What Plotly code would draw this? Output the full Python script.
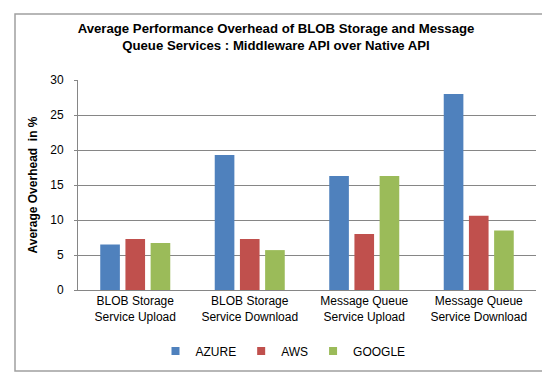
import plotly.graph_objects as go

categories = ["BLOB Storage<br>Service Upload", "BLOB Storage<br>Service Download",
              "Message Queue<br>Service Upload", "Message Queue<br>Service Download"]
azure = [6.5, 19.3, 16.3, 28.0]
aws = [7.3, 7.3, 8.0, 10.6]
google = [6.7, 5.7, 16.3, 8.5]
series_names = ["AZURE", "AWS", "GOOGLE"]
colors = ["#4F81BD", "#C0504D", "#9BBB59"]

fig = go.Figure()
for name, vals, c in zip(series_names, [azure, aws, google], colors):
    fig.add_trace(go.Bar(x=categories, y=vals, name=name, showlegend=False,
                         marker=dict(color=c, line=dict(width=0))))
# legend entries with small square swatches
for name, c in zip(series_names, colors):
    fig.add_trace(go.Scatter(x=[None], y=[None], mode="markers", name=name,
                             marker=dict(symbol="square", size=8, color=c)))

L, R, T, B = 70, 22, 72, 90
W, H = 550, 372
pw, ph = W - L - R, H - T - B

def px_x(x):
    return (x - L) / pw

def px_y(y):
    return (H - B - y) / ph

fig.update_layout(
    width=W, height=H,
    margin=dict(l=L, r=R, t=T, b=B),
    paper_bgcolor="white", plot_bgcolor="white",
    font=dict(family="Liberation Sans, Arial, sans-serif", size=12, color="#000000"),
    title=dict(text="<b>Average Performance Overhead of BLOB Storage and Message<br>Queue Services : Middleware API over Native API</b>",
               x=268 / W, xanchor="center", y=1 - 25 / H, yanchor="middle",
               font=dict(family="Liberation Sans, Arial, sans-serif", size=13.2, color="#000000")),
    barmode="group", bargap=0.34, bargroupgap=0.22,
    showlegend=True,
    legend=dict(orientation="h", xref="container", x=0.5, xanchor="center",
                yref="container", y=1 - 343 / H, yanchor="middle",
                font=dict(size=12), itemwidth=30, traceorder="normal"),
    xaxis=dict(showline=True, linecolor="#868686", linewidth=1, ticks="", showgrid=False,
               tickfont=dict(size=12), automargin=False),
    yaxis=dict(range=[0, 30], dtick=5, showline=True, linecolor="#868686", linewidth=1,
               gridcolor="#868686", gridwidth=1, ticks="outside", ticklen=3, tickcolor="#868686",
               tickfont=dict(size=12), ticklabelstandoff=8, automargin=False,
               title=dict(text="<b>Average Overhead  in %</b>", font=dict(size=12), standoff=10)),
)

fig.add_shape(type="rect", xref="paper", yref="paper",
              x0=px_x(7), x1=px_x(544), y0=px_y(363), y1=px_y(6),
              line=dict(color="#A0A0A0", width=1.5), fillcolor="rgba(0,0,0,0)", layer="below")

fig.write_html("out.html")
